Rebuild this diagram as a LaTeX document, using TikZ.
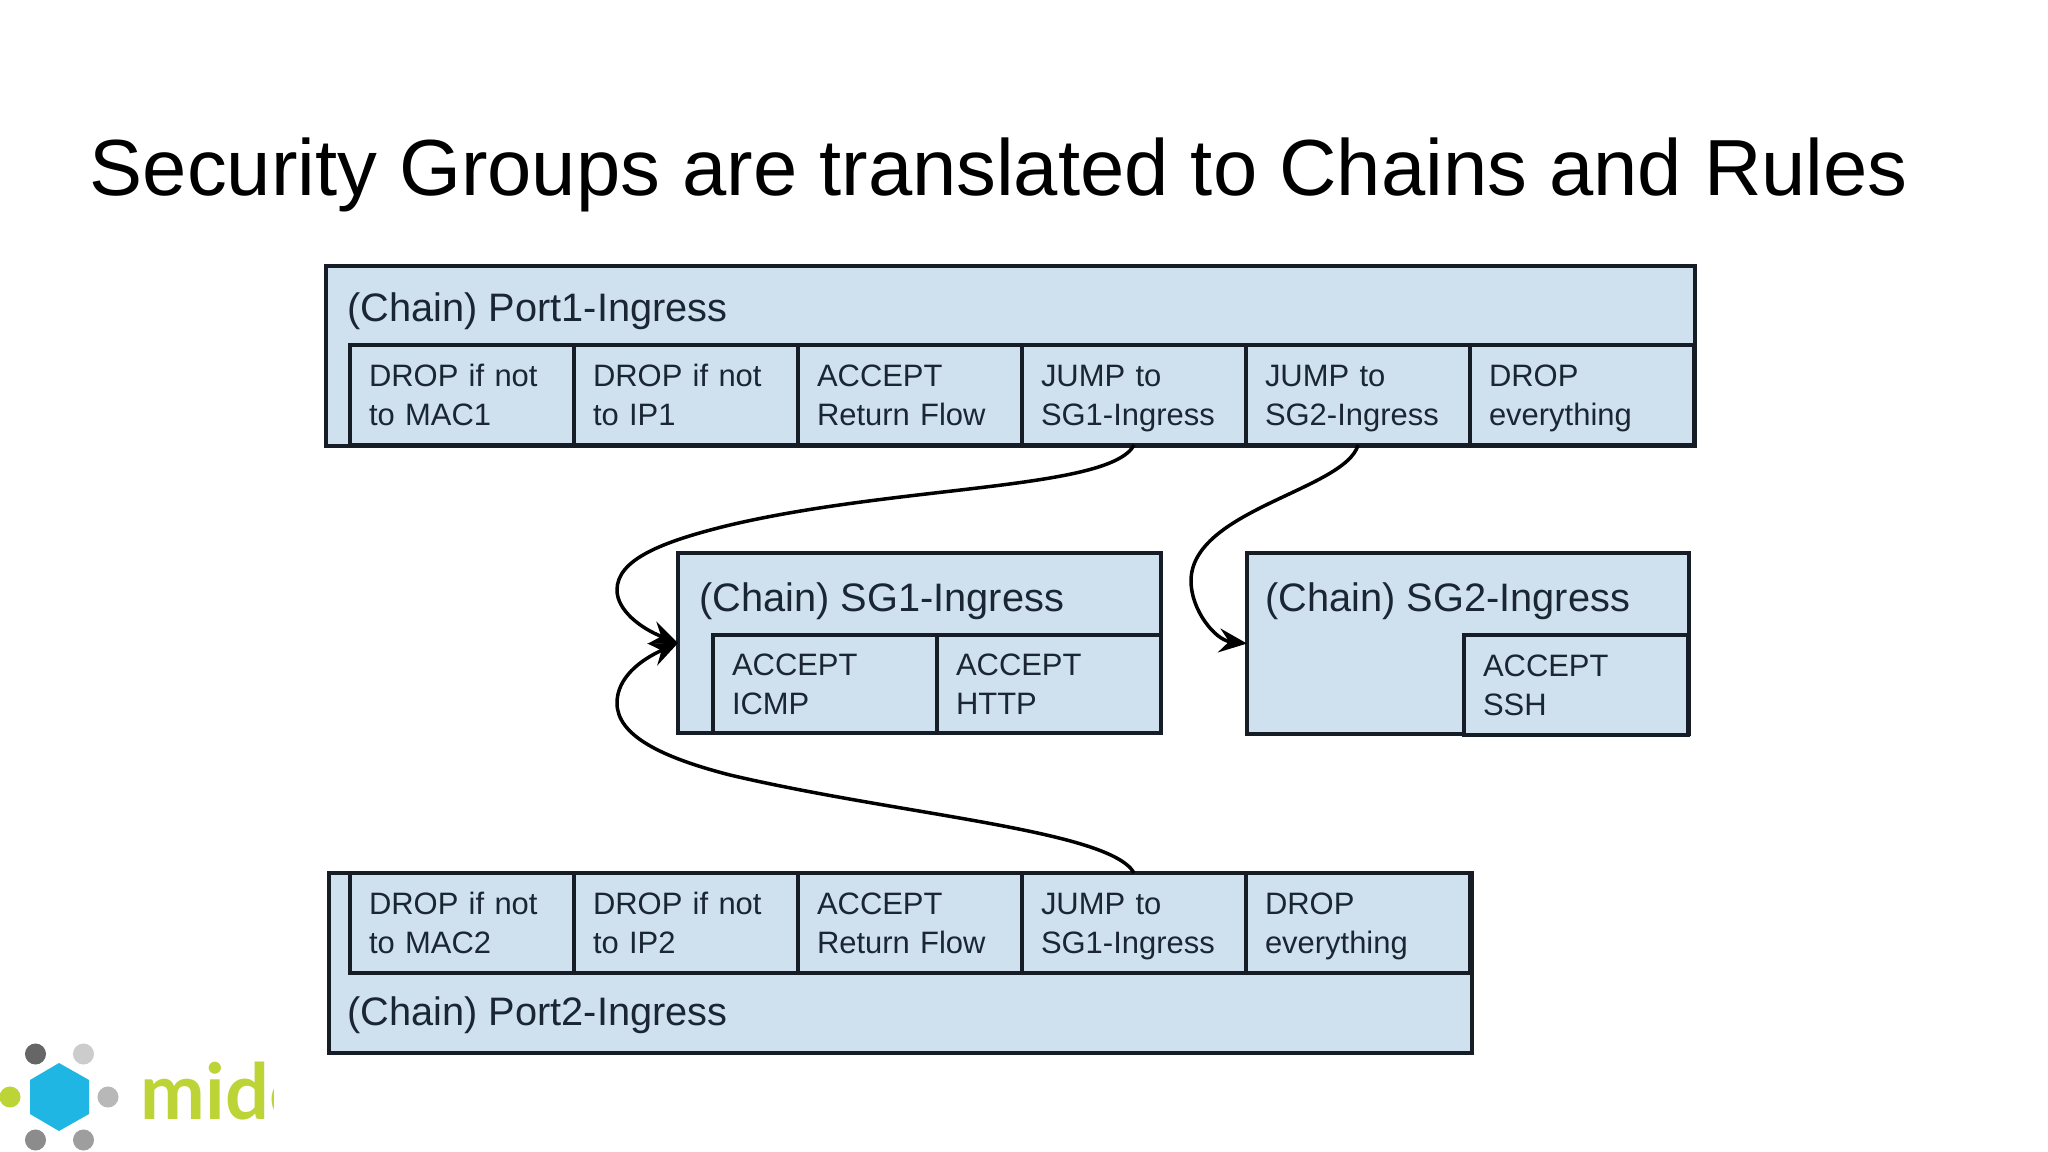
\documentclass[tikz,border=0pt]{standalone}
\usepackage{fontspec}
\setmainfont{Liberation Sans}
\usetikzlibrary{arrows.meta}
\definecolor{boxfill}{HTML}{CFE0EF}
\definecolor{boxline}{HTML}{161D26}
\definecolor{boxtext}{HTML}{1A2633}
\definecolor{midogreen}{HTML}{BDD437}
\definecolor{midoblue}{HTML}{20B6E4}
\newfontfamily\logofont{Lato}
\tikzset{
  chainbox/.style={draw=boxline,fill=boxfill,line width=0.04cm,rectangle,inner sep=0pt,outer sep=0pt,anchor=north west},
  cellbox/.style={chainbox,minimum height=1cm,inner xsep=0.19cm,text width=1.86cm,text height=6.3pt,text depth=11.1pt,align=left,text=boxtext,font=\fontsize{8.8pt}{11.1pt}\selectfont},
  chainlabel/.style={anchor=base west,inner sep=0pt,text=boxtext,font=\fontsize{11.3pt}{13pt}\selectfont},
  flow/.style={draw=black,line width=0.035cm,-{Stealth[length=0.28cm,width=0.24cm,inset=0.1cm]}},
  dot/.style={circle,inner sep=0pt,minimum size=0.21cm,outer sep=0pt},
}
\begin{document}
\begin{tikzpicture}[x=0.01cm,y=-0.01cm]
\useasboundingbox (0,0) rectangle (2048,1152);
\fill[white] (0,0) rectangle (2048,1152);
\node[anchor=base west,inner sep=0pt,font=\fontsize{22.63pt}{26pt}\selectfont,text=black] (title) at (89,196) {Security Groups are translated to Chains and Rules};
% Port1
\node[chainbox,minimum width=13.68cm,minimum height=1.8cm] (port1) at (326,266) {};
\node[chainlabel] (port1label) at (347,322) {(Chain) Port1-Ingress};
\node[cellbox] (a1) at (350,345) {DROP if not\\to MAC1};
\node[cellbox] (a2) at (574,345) {DROP if not\\to IP1};
\node[cellbox] (a3) at (798,345) {ACCEPT\\Return Flow};
\node[cellbox] (a4) at (1022,345) {JUMP to\\SG1-Ingress};
\node[cellbox] (a5) at (1246,345) {JUMP to\\SG2-Ingress};
\node[cellbox] (a6) at (1470,345) {DROP\\everything};
% SG1
\node[chainbox,minimum width=4.83cm,minimum height=1.8cm] (sg1) at (678,553) {};
\node[chainlabel] (sg1label) at (699,612) {(Chain) SG1-Ingress};
\node[cellbox,minimum height=0.98cm] (b1) at (713,635) {ACCEPT\\ICMP};
\node[cellbox,minimum height=0.98cm] (b2) at (937,635) {ACCEPT\\HTTP};
% SG2
\node[chainbox,minimum width=4.42cm,minimum height=1.81cm] (sg2) at (1247,553) {};
\node[chainlabel] (sg2label) at (1265,612) {(Chain) SG2-Ingress};
\node[cellbox] (c1) at (1464,635) {ACCEPT\\SSH};
% Port2
\node[chainbox,minimum width=11.42cm,minimum height=1.8cm] (port2) at (329,873) {};
\node[chainlabel] (port2label) at (347,1025) {(Chain) Port2-Ingress};
\node[cellbox] (d1) at (350,873) {DROP if not\\to MAC2};
\node[cellbox] (d2) at (574,873) {DROP if not\\to IP2};
\node[cellbox] (d3) at (798,873) {ACCEPT\\Return Flow};
\node[cellbox] (d4) at (1022,873) {JUMP to\\SG1-Ingress};
\node[cellbox] (d5) at (1246,873) {DROP\\everything};
% flows
\draw[flow] (a4.south) .. controls (1110,490) and (900,485) .. (730,525) .. controls (660,542) and (617,560) .. (617,590) .. controls (617,610) and (640,628) .. (sg1.west);
\draw[flow] (d4.north) .. controls (1110,830) and (900,815) .. (730,775) .. controls (660,757) and (617,735) .. (617,703) .. controls (617,678) and (640,660) .. (sg1.west);
\draw[flow] (a5.south) .. controls (1345,490) and (1191,510) .. (1191,581) .. controls (1191,610) and (1215,640) .. (sg2.west);
% logo
\fill[midoblue] (59,1063) -- (89,1080) -- (89,1114) -- (59,1131) -- (30,1114) -- (30,1080) -- cycle;
\node[dot,fill=black!60] (l1) at (35.5,1054) {};
\node[dot,fill=black!20] (l2) at (83.5,1054) {};
\node[dot,fill=midogreen] (l3) at (10,1097) {};
\node[dot,fill=black!28] (l4) at (108,1097) {};
\node[dot,fill=black!45] (l5) at (35.5,1140) {};
\node[dot,fill=black!38] (l6) at (83.5,1140) {};
\begin{scope}
\clip (130,1040) rectangle (273,1152);
\node[anchor=base west,inner sep=0pt,text=midogreen,font=\logofont\bfseries\fontsize{22pt}{26pt}\selectfont] (logotext) at (140,1119) {mido};
\end{scope}
\end{tikzpicture}
\end{document}
